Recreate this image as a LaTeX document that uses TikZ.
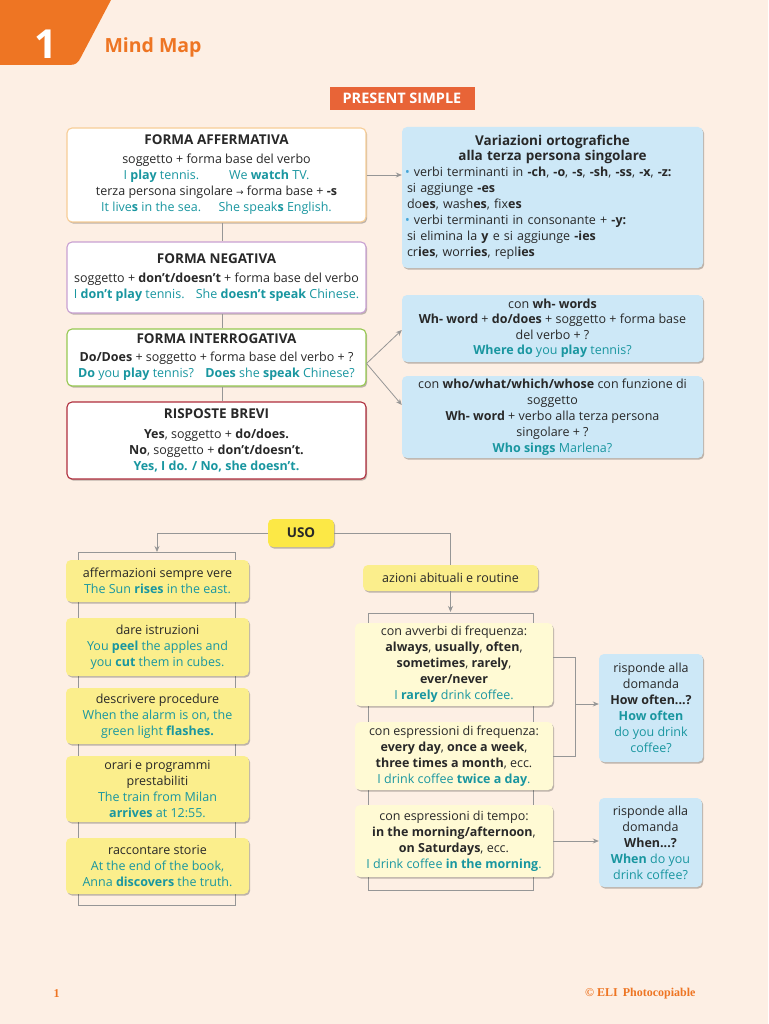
\documentclass[tikz,border=0pt]{standalone}
\usepackage{fontspec}
\setmainfont{Open Sans}
\newfontfamily\djv{DejaVu Sans}
\newfontfamily\ftserif{Liberation Serif}
\usetikzlibrary{arrows.meta,shadows}
\definecolor{bgc}{RGB}{253,239,228}
\definecolor{orc}{RGB}{238,117,35}
\definecolor{psc}{RGB}{232,100,55}
\definecolor{tl}{RGB}{25,150,160}
\definecolor{dk}{RGB}{40,40,40}
\definecolor{bra}{RGB}{247,205,150}
\definecolor{brn}{RGB}{200,160,210}
\definecolor{bri}{RGB}{150,200,80}
\definecolor{brr}{RGB}{175,45,60}
\definecolor{blf}{RGB}{205,232,247}
\definecolor{bul}{RGB}{70,165,215}
\definecolor{usoc}{RGB}{252,232,70}
\definecolor{ylf}{RGB}{251,238,140}
\definecolor{pyf}{RGB}{255,250,212}
\definecolor{lnc}{RGB}{150,150,150}
\tikzset{
  base/.style={rounded corners=5pt, align=center, inner sep=1pt, text=dk,
    font=\fontsize{12.5}{16}\selectfont,
    drop shadow={shadow xshift=1.2pt,shadow yshift=-1.6pt,fill=black,opacity=0.25}},
  wbx/.style={base, fill=white, draw=#1, line width=1.1pt, minimum width=299pt},
  blbx/.style={base, fill=blf},
  ybx/.style={base, fill=ylf},
  pybx/.style={base, fill=pyf},
  ln/.style={draw=lnc, line width=0.8pt},
  arr/.style={ln, -{Stealth[length=6pt,width=5pt]}},
}
\newcommand{\ttl}[1]{{\fontsize{13.5}{16}\selectfont\bfseries #1}}
\begin{document}
\begin{tikzpicture}[x=1pt,y=-1pt]
\fill[bgc] (0,0) rectangle (768,1024);
\useasboundingbox (0,0) rectangle (768,1024);
% header
\fill[orc] (0,0) -- (111,0) -- (81,57) .. controls (78,63) and (76,65) .. (69,65) -- (0,65) -- cycle;
\node[text=white, font=\fontsize{40}{40}\selectfont\bfseries] (num) at (46,44) {1};
\node[text=orc, font=\fontsize{19.5}{19.5}\selectfont\bfseries, anchor=west] (mm) at (101,47) {Mind Map};
\node[fill=psc, text=white, font=\fontsize{14.5}{14.5}\selectfont\bfseries, minimum width=145pt, minimum height=23pt, inner sep=0pt] (ps) at (402,98.5) {PRESENT SIMPLE};
% left forms
\node[wbx=bra, minimum height=94pt] (b1) at (216.5,175) {\ttl{FORMA AFFERMATIVA}\\[3pt]
soggetto + forma base del verbo\\
{\color{tl}I \textbf{play} tennis.\hspace{2.4em}We \textbf{watch} TV.}\\
terza persona singolare {\djv\fontsize{9}{16}\selectfont →} forma base + \textbf{-s}\\
{\color{tl}It live\textbf{s} in the sea.\hspace{1.4em}She speak\textbf{s} English.}};
\node[wbx=brn, minimum height=71pt] (b2) at (216.5,277.5) {\ttl{FORMA NEGATIVA}\\[3pt]
soggetto + \textbf{don’t/doesn’t} + forma base del verbo\\
{\color{tl}I \textbf{don’t play} tennis.\hspace{0.9em}She \textbf{doesn’t speak} Chinese.}};
\node[wbx=bri, minimum height=57pt] (b3) at (216.5,357.5) {\ttl{FORMA INTERROGATIVA}\\[2pt]
\textbf{Do/Does} + soggetto + forma base del verbo + ?\\
{\color{tl}\textbf{Do} you \textbf{play} tennis?\hspace{0.9em}\textbf{Does} she \textbf{speak} Chinese?}};
\node[wbx=brr, minimum height=77pt] (b4) at (216.5,440.5) {\ttl{RISPOSTE BREVI}\\[4pt]
\textbf{Yes}, soggetto + \textbf{do/does.}\\
\textbf{No}, soggetto + \textbf{don’t/doesn’t.}\\
{\color{tl}\textbf{Yes, I do. / No, she doesn’t.}}};
\draw[ln] ([xshift=5.5pt]b1.south) -- ([xshift=5.5pt]b2.north);
\draw[ln] ([xshift=5.5pt]b2.south) -- ([xshift=5.5pt]b3.north);
\draw[ln] ([xshift=5.5pt]b3.south) -- ([xshift=5.5pt]b4.north);
% right blue boxes
\node[blbx, minimum width=301pt, minimum height=141pt, text width=295pt, align=left] (var) at (552.5,197.5) {\centerline{\ttl{Variazioni ortografiche}}\vspace{-1pt}
\centerline{\ttl{alla terza persona singolare}}
{\color{bul}\textbullet} verbi terminanti in \textbf{-ch}, \textbf{-o}, \textbf{-s}, \textbf{-sh}, \textbf{-ss}, \textbf{-x}, \textbf{-z:}\\
\hspace*{2pt}si aggiunge \textbf{-es}\\
\hspace*{2pt}do\textbf{es}, wash\textbf{es}, fix\textbf{es}\\
{\color{bul}\textbullet} verbi terminanti in consonante + \textbf{-y:}\\
\hspace*{2pt}si elimina la \textbf{y} e si aggiunge \textbf{-ies}\\
\hspace*{2pt}cr\textbf{ies}, worr\textbf{ies}, repl\textbf{ies}};
\draw[arr] (b1.east) -- (b1.east -| var.west);
\node[blbx, minimum width=301pt, minimum height=67pt] (wh) at (552.5,328.5) {con \textbf{wh- words}\\[-0.5pt]
\textbf{Wh- word} + \textbf{do/does} + soggetto + forma base\\[-0.5pt]
del verbo + ?\\[-0.5pt]
{\color{tl}\textbf{Where do} you \textbf{play} tennis?}};
\node[blbx, minimum width=301pt, minimum height=82pt] (who) at (552.5,417) {con \textbf{who/what/which/whose} con funzione di\\
soggetto\\
\textbf{Wh- word} + verbo alla terza persona\\
singolare + ?\\
{\color{tl}\textbf{Who sings} Marlena?}};
\coordinate (q) at ([yshift=-6pt]b3.east);
\draw[arr] (q) -- ([yshift=-1.5pt]wh.west);
\draw[arr] (q) -- ([yshift=12pt]who.west);
% USO
\node[base, fill=usoc, minimum width=66pt, minimum height=28pt, font=\fontsize{13.5}{14}\selectfont\bfseries] (uso) at (301,533) {USO};
\coordinate (lt) at (157,552);
\draw[arr] (uso.west) -| (lt);
\draw[ln] (78,552) rectangle (235,905);
\node[ybx, minimum width=183pt, minimum height=42pt] (ya) at (157.5,581) {affermazioni sempre vere\\
{\color{tl}The Sun \textbf{rises} in the east.}};
\node[ybx, minimum width=183pt, minimum height=58pt] (yb) at (157.5,647) {dare istruzioni\\
{\color{tl}You \textbf{peel} the apples and}\\
{\color{tl}you \textbf{cut} them in cubes.}};
\node[ybx, minimum width=183pt, minimum height=56pt] (yc) at (157.5,716) {descrivere procedure\\
{\color{tl}When the alarm is on, the}\\
{\color{tl}green light \textbf{flashes.}}};
\node[ybx, minimum width=183pt, minimum height=66pt] (yd) at (157.5,789) {orari e programmi\\
prestabiliti\\
{\color{tl}The train from Milan}\\
{\color{tl}\textbf{arrives} at 12:55.}};
\node[ybx, minimum width=183pt, minimum height=56pt] (ye) at (157.5,866) {raccontare storie\\
{\color{tl}At the end of the book,}\\
{\color{tl}Anna \textbf{discovers} the truth.}};
% right branch
\node[ybx, minimum width=175pt, minimum height=26pt] (az) at (450.5,578) {azioni abituali e routine};
\draw[ln] (uso.east) -| (az.north);
\coordinate (rt) at (450.5,612);
\draw[arr] (az.south) -- (rt);
\draw[ln] (368,613) rectangle (533,890);
\node[pybx, minimum width=198pt, minimum height=83pt] (r1) at (454,664.5) {con avverbi di frequenza:\\
\textbf{always}, \textbf{usually}, \textbf{often},\\
\textbf{sometimes}, \textbf{rarely},\\
\textbf{ever/never}\\
{\color{tl}I \textbf{rarely} drink coffee.}};
\node[pybx, minimum width=198pt, minimum height=68pt] (r2) at (454,756) {con espressioni di frequenza:\\
\textbf{every day}, \textbf{once a week},\\
\textbf{three times a month}, ecc.\\
{\color{tl}I drink coffee \textbf{twice a day}.}};
\node[pybx, minimum width=198pt, minimum height=72pt] (r3) at (454,841) {con espressioni di tempo:\\
\textbf{in the morning/afternoon},\\
\textbf{on Saturdays}, ecc.\\
{\color{tl}I drink coffee \textbf{in the morning}.}};
\node[blbx, minimum width=104pt, minimum height=108pt] (h1) at (651,708) {risponde alla\\
domanda\\
\textbf{How often...?}\\
{\color{tl}\textbf{How often}}\\
{\color{tl}do you drink}\\
{\color{tl}coffee?}};
\node[blbx, minimum width=103pt, minimum height=89pt] (h2) at (650.5,842.5) {risponde alla\\
domanda\\
\textbf{When...?}\\
{\color{tl}\textbf{When} do you}\\
{\color{tl}drink coffee?}};
\coordinate (bk1) at (575,657);
\coordinate (bk2) at (575,756);
\draw[ln] (r1.east |- bk1) -- (bk1) -- (bk2) -- (r2.east |- bk2);
\coordinate (bkm) at (575,704);
\draw[arr] (bkm) -- (bkm -| h1.west);
\draw[arr] (r3.east) -- (r3.east -| h2.west);
% footer
\node[text=orc, font=\ftserif\fontsize{12}{12}\selectfont\bfseries, anchor=west] (pg) at (50,994) {1};
\node[text=orc, font=\ftserif\fontsize{12}{12}\selectfont\bfseries, anchor=east] (cp) at (699,994) {© ELI\, Photocopiable};
\end{tikzpicture}
\end{document}
